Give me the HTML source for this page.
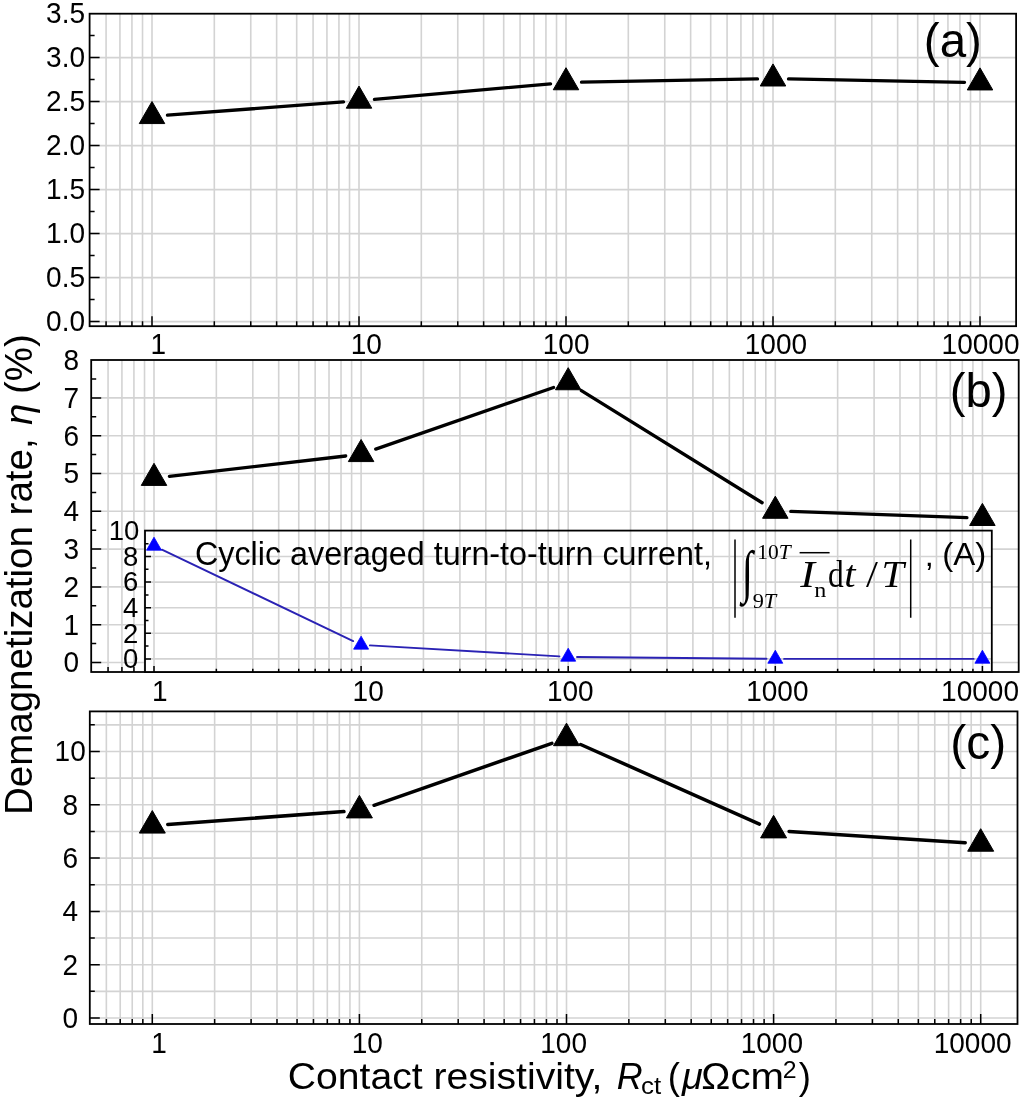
<!DOCTYPE html>
<html lang="en"><head><meta charset="utf-8"><title>Demagnetization rate vs contact resistivity</title>
<style>html,body{margin:0;padding:0;background:#fff}svg{display:block}text{font-family:"Liberation Sans",Arial,sans-serif;fill:#000}.tm{font-family:"Liberation Serif","Times New Roman",serif}</style>
</head><body>
<svg width="1025" height="1100" viewBox="0 0 1025 1100">
<rect width="1025" height="1100" fill="#fff"/>
<g id="panel-a">
<path d="M106.08 13.7V326.2M119.94 13.7V326.2M131.94 13.7V326.2M142.53 13.7V326.2M152 13.7V326.2M214.31 13.7V326.2M250.76 13.7V326.2M276.63 13.7V326.2M296.69 13.7V326.2M313.08 13.7V326.2M326.94 13.7V326.2M338.94 13.7V326.2M349.53 13.7V326.2M359 13.7V326.2M421.31 13.7V326.2M457.76 13.7V326.2M483.63 13.7V326.2M503.69 13.7V326.2M520.08 13.7V326.2M533.94 13.7V326.2M545.94 13.7V326.2M556.53 13.7V326.2M566 13.7V326.2M628.31 13.7V326.2M664.76 13.7V326.2M690.63 13.7V326.2M710.69 13.7V326.2M727.08 13.7V326.2M740.94 13.7V326.2M752.94 13.7V326.2M763.53 13.7V326.2M773 13.7V326.2M835.31 13.7V326.2M871.76 13.7V326.2M897.63 13.7V326.2M917.69 13.7V326.2M934.08 13.7V326.2M947.94 13.7V326.2M959.94 13.7V326.2M970.53 13.7V326.2M980 13.7V326.2M89.6 321.6H1016.1M89.6 277.6H1016.1M89.6 233.6H1016.1M89.6 189.6H1016.1M89.6 145.6H1016.1M89.6 101.6H1016.1M89.6 57.6H1016.1" stroke="#d3d3d3" stroke-width="1.6" fill="none"/>
<g stroke="#000" stroke-width="3.3" stroke-linecap="round"><line x1="167.46" y1="115.06" x2="343.54" y2="101.96"/><line x1="374.44" y1="99.44" x2="550.56" y2="83.79"/><line x1="581.5" y1="82.13" x2="757.5" y2="78.92"/><line x1="788.5" y1="78.93" x2="964.5" y2="82.3"/></g>
<polygon points="152,101.49 139.25,123.57 164.75,123.57" fill="#000" stroke="#000" stroke-width="1.0" stroke-linejoin="round"/>
<polygon points="359,86.09 346.25,108.17 371.75,108.17" fill="#000" stroke="#000" stroke-width="1.0" stroke-linejoin="round"/>
<polygon points="566,67.69 553.25,89.78 578.75,89.78" fill="#000" stroke="#000" stroke-width="1.0" stroke-linejoin="round"/>
<polygon points="773,63.91 760.25,85.99 785.75,85.99" fill="#000" stroke="#000" stroke-width="1.0" stroke-linejoin="round"/>
<polygon points="980,67.87 967.25,89.95 992.75,89.95" fill="#000" stroke="#000" stroke-width="1.0" stroke-linejoin="round"/>
<path d="M106.08 326.2v-5M119.94 326.2v-5M131.94 326.2v-5M142.53 326.2v-5M152 326.2v-10M214.31 326.2v-5M250.76 326.2v-5M276.63 326.2v-5M296.69 326.2v-5M313.08 326.2v-5M326.94 326.2v-5M338.94 326.2v-5M349.53 326.2v-5M359 326.2v-10M421.31 326.2v-5M457.76 326.2v-5M483.63 326.2v-5M503.69 326.2v-5M520.08 326.2v-5M533.94 326.2v-5M545.94 326.2v-5M556.53 326.2v-5M566 326.2v-10M628.31 326.2v-5M664.76 326.2v-5M690.63 326.2v-5M710.69 326.2v-5M727.08 326.2v-5M740.94 326.2v-5M752.94 326.2v-5M763.53 326.2v-5M773 326.2v-10M835.31 326.2v-5M871.76 326.2v-5M897.63 326.2v-5M917.69 326.2v-5M934.08 326.2v-5M947.94 326.2v-5M959.94 326.2v-5M970.53 326.2v-5M980 326.2v-10M89.6 321.6h10M89.6 277.6h10M89.6 233.6h10M89.6 189.6h10M89.6 145.6h10M89.6 101.6h10M89.6 57.6h10M89.6 299.6h5M89.6 255.6h5M89.6 211.6h5M89.6 167.6h5M89.6 123.6h5M89.6 79.6h5M89.6 35.6h5" stroke="#000" stroke-width="1.5" fill="none"/><rect x="89.6" y="13.7" width="926.5" height="312.5" fill="none" stroke="#000" stroke-width="1.8"/>
<text transform="translate(65.6,331.48) scale(0.95,1)" font-size="29.5" text-anchor="middle">0.0</text>
<text transform="translate(65.6,287.48) scale(0.95,1)" font-size="29.5" text-anchor="middle">0.5</text>
<text transform="translate(65.6,243.48) scale(0.95,1)" font-size="29.5" text-anchor="middle">1.0</text>
<text transform="translate(65.6,199.48) scale(0.95,1)" font-size="29.5" text-anchor="middle">1.5</text>
<text transform="translate(65.6,155.48) scale(0.95,1)" font-size="29.5" text-anchor="middle">2.0</text>
<text transform="translate(65.6,111.48) scale(0.95,1)" font-size="29.5" text-anchor="middle">2.5</text>
<text transform="translate(65.6,67.48) scale(0.95,1)" font-size="29.5" text-anchor="middle">3.0</text>
<text transform="translate(65.6,23.48) scale(0.95,1)" font-size="29.5" text-anchor="middle">3.5</text>
</g>
<g id="panel-b">
<path d="M108.06 360V672M121.92 360V672M133.93 360V672M144.52 360V672M154 360V672M216.34 360V672M252.81 360V672M278.69 360V672M298.76 360V672M315.16 360V672M329.02 360V672M341.03 360V672M351.62 360V672M361.1 360V672M423.44 360V672M459.91 360V672M485.79 360V672M505.86 360V672M522.26 360V672M536.12 360V672M548.13 360V672M558.72 360V672M568.2 360V672M630.54 360V672M667.01 360V672M692.89 360V672M712.96 360V672M729.36 360V672M743.22 360V672M755.23 360V672M765.82 360V672M775.3 360V672M837.64 360V672M874.11 360V672M899.99 360V672M920.06 360V672M936.46 360V672M950.32 360V672M962.33 360V672M972.92 360V672M982.4 360V672M91.2 662.5H1018.7M91.2 624.7H1018.7M91.2 586.9H1018.7M91.2 549.1H1018.7M91.2 511.3H1018.7M91.2 473.5H1018.7M91.2 435.7H1018.7M91.2 397.9H1018.7" stroke="#d3d3d3" stroke-width="1.6" fill="none"/>
<g stroke="#000" stroke-width="3.3" stroke-linecap="round"><line x1="169.4" y1="476.27" x2="345.7" y2="455.99"/><line x1="375.74" y1="449.14" x2="553.56" y2="387.48"/><line x1="581.37" y1="390.57" x2="762.13" y2="502.75"/><line x1="790.79" y1="511.46" x2="966.91" y2="517.57"/></g>
<polygon points="154,463.31 141.25,485.4 166.75,485.4" fill="#000" stroke="#000" stroke-width="1.0" stroke-linejoin="round"/>
<polygon points="361.1,439.5 348.35,461.58 373.85,461.58" fill="#000" stroke="#000" stroke-width="1.0" stroke-linejoin="round"/>
<polygon points="568.2,367.68 555.45,389.76 580.95,389.76" fill="#000" stroke="#000" stroke-width="1.0" stroke-linejoin="round"/>
<polygon points="775.3,496.2 762.55,518.28 788.05,518.28" fill="#000" stroke="#000" stroke-width="1.0" stroke-linejoin="round"/>
<polygon points="982.4,503.38 969.65,525.47 995.15,525.47" fill="#000" stroke="#000" stroke-width="1.0" stroke-linejoin="round"/>
<path d="M108.06 672v-5M121.92 672v-5M133.93 672v-5M91.2 662.5h10M91.2 624.7h10M91.2 586.9h10M91.2 549.1h10M91.2 511.3h10M91.2 473.5h10M91.2 435.7h10M91.2 397.9h10M91.2 643.6h5M91.2 605.8h5M91.2 568h5M91.2 530.2h5M91.2 492.4h5M91.2 454.6h5M91.2 416.8h5M91.2 379h5" stroke="#000" stroke-width="1.5" fill="none"/><rect x="91.2" y="360" width="927.5" height="312" fill="none" stroke="#000" stroke-width="1.8"/>
<text transform="translate(71.2,672.38) scale(0.95,1)" font-size="29.5" text-anchor="middle">0</text>
<text transform="translate(71.2,634.58) scale(0.95,1)" font-size="29.5" text-anchor="middle">1</text>
<text transform="translate(71.2,596.78) scale(0.95,1)" font-size="29.5" text-anchor="middle">2</text>
<text transform="translate(71.2,558.98) scale(0.95,1)" font-size="29.5" text-anchor="middle">3</text>
<text transform="translate(71.2,521.18) scale(0.95,1)" font-size="29.5" text-anchor="middle">4</text>
<text transform="translate(71.2,483.38) scale(0.95,1)" font-size="29.5" text-anchor="middle">5</text>
<text transform="translate(71.2,445.58) scale(0.95,1)" font-size="29.5" text-anchor="middle">6</text>
<text transform="translate(71.2,407.78) scale(0.95,1)" font-size="29.5" text-anchor="middle">7</text>
<text transform="translate(71.2,369.98) scale(0.95,1)" font-size="29.5" text-anchor="middle">8</text>
<g id="inset">
<rect x="145" y="530.6" width="846.8" height="141.4" fill="#fff"/>
<path d="M154 530.6V672M216.34 530.6V672M252.81 530.6V672M278.69 530.6V672M298.76 530.6V672M315.16 530.6V672M329.02 530.6V672M341.03 530.6V672M351.62 530.6V672M361.1 530.6V672M423.44 530.6V672M459.91 530.6V672M485.79 530.6V672M505.86 530.6V672M522.26 530.6V672M536.12 530.6V672M548.13 530.6V672M558.72 530.6V672M568.2 530.6V672M630.54 530.6V672M667.01 530.6V672M692.89 530.6V672M712.96 530.6V672M729.36 530.6V672M743.22 530.6V672M755.23 530.6V672M765.82 530.6V672M775.3 530.6V672M837.64 530.6V672M874.11 530.6V672M899.99 530.6V672M920.06 530.6V672M936.46 530.6V672M950.32 530.6V672M962.33 530.6V672M972.92 530.6V672M982.4 530.6V672M145 658.9H991.8M145 633.3H991.8M145 607.7H991.8M145 582.1H991.8M145 556.5H991.8" stroke="#d3d3d3" stroke-width="1.6" fill="none"/>
<g stroke="#2a22b4" stroke-width="1.9" stroke-linecap="round"><line x1="161.94" y1="549.67" x2="353.16" y2="641.03"/><line x1="369.89" y1="645.33" x2="559.41" y2="656.34"/><line x1="577" y1="656.94" x2="766.5" y2="658.81"/><line x1="784.1" y1="658.9" x2="973.6" y2="658.9"/></g>
<polygon points="154,537.22 146.5,550.21 161.5,550.21" fill="#0000ff" stroke="#0000ff" stroke-width="0.8" stroke-linejoin="round"/>
<polygon points="361.1,636.16 353.6,649.15 368.6,649.15" fill="#0000ff" stroke="#0000ff" stroke-width="0.8" stroke-linejoin="round"/>
<polygon points="568.2,648.19 560.7,661.18 575.7,661.18" fill="#0000ff" stroke="#0000ff" stroke-width="0.8" stroke-linejoin="round"/>
<polygon points="775.3,650.24 767.8,663.23 782.8,663.23" fill="#0000ff" stroke="#0000ff" stroke-width="0.8" stroke-linejoin="round"/>
<polygon points="982.4,650.24 974.9,663.23 989.9,663.23" fill="#0000ff" stroke="#0000ff" stroke-width="0.8" stroke-linejoin="round"/>
<path d="M154 672v-6M216.34 672v-3.2M252.81 672v-3.2M278.69 672v-3.2M298.76 672v-3.2M315.16 672v-3.2M329.02 672v-3.2M341.03 672v-3.2M351.62 672v-3.2M361.1 672v-6M423.44 672v-3.2M459.91 672v-3.2M485.79 672v-3.2M505.86 672v-3.2M522.26 672v-3.2M536.12 672v-3.2M548.13 672v-3.2M558.72 672v-3.2M568.2 672v-6M630.54 672v-3.2M667.01 672v-3.2M692.89 672v-3.2M712.96 672v-3.2M729.36 672v-3.2M743.22 672v-3.2M755.23 672v-3.2M765.82 672v-3.2M775.3 672v-6M837.64 672v-3.2M874.11 672v-3.2M899.99 672v-3.2M920.06 672v-3.2M936.46 672v-3.2M950.32 672v-3.2M962.33 672v-3.2M972.92 672v-3.2M982.4 672v-6M145 658.9h6M145 646.1h3.5M145 633.3h6M145 620.5h3.5M145 607.7h6M145 594.9h3.5M145 582.1h6M145 569.3h3.5M145 556.5h6M145 543.7h3.5" stroke="#000" stroke-width="1.5" fill="none"/>
<rect x="145" y="530.6" width="846.8" height="141.4" fill="none" stroke="#000" stroke-width="1.8"/>
<text x="138.2" y="668.2" font-size="27.5" text-anchor="end">0</text>
<text x="138.2" y="642.6" font-size="27.5" text-anchor="end">2</text>
<text x="138.2" y="617" font-size="27.5" text-anchor="end">4</text>
<text x="138.2" y="591.4" font-size="27.5" text-anchor="end">6</text>
<text x="138.2" y="565.8" font-size="27.5" text-anchor="end">8</text>
<text x="139.3" y="540.2" font-size="27.5" text-anchor="end">10</text>
<g id="formula">
<path d="M735 539.5V617.8M910.7 539.5V617.8" stroke="#000" stroke-width="1.5" fill="none"/>
<text class="tm" transform="translate(741.65,591.2) scale(0.821,1.157)" font-size="50">∫</text>
<path d="M799.6 552.7H829.6" stroke="#000" stroke-width="1.5"/>
</g>
</g>
</g>
<g id="panel-c">
<path d="M106.36 711.4V1024M120.22 711.4V1024M132.23 711.4V1024M142.82 711.4V1024M152.3 711.4V1024M214.64 711.4V1024M251.11 711.4V1024M276.99 711.4V1024M297.06 711.4V1024M313.46 711.4V1024M327.32 711.4V1024M339.33 711.4V1024M349.92 711.4V1024M359.4 711.4V1024M421.74 711.4V1024M458.21 711.4V1024M484.09 711.4V1024M504.16 711.4V1024M520.56 711.4V1024M534.42 711.4V1024M546.43 711.4V1024M557.02 711.4V1024M566.5 711.4V1024M628.84 711.4V1024M665.31 711.4V1024M691.19 711.4V1024M711.26 711.4V1024M727.66 711.4V1024M741.52 711.4V1024M753.53 711.4V1024M764.12 711.4V1024M773.6 711.4V1024M835.94 711.4V1024M872.41 711.4V1024M898.29 711.4V1024M918.36 711.4V1024M934.76 711.4V1024M948.62 711.4V1024M960.63 711.4V1024M971.22 711.4V1024M980.7 711.4V1024M89.8 1018H1017.5M89.8 991.35H1017.5M89.8 964.7H1017.5M89.8 938.05H1017.5M89.8 911.4H1017.5M89.8 884.75H1017.5M89.8 858.1H1017.5M89.8 831.45H1017.5M89.8 804.8H1017.5M89.8 778.15H1017.5M89.8 751.5H1017.5M89.8 724.85H1017.5" stroke="#d3d3d3" stroke-width="1.6" fill="none"/>
<g stroke="#000" stroke-width="3.5" stroke-linecap="round"><line x1="167.76" y1="824.45" x2="343.94" y2="811.53"/><line x1="374.04" y1="805.29" x2="551.86" y2="743.28"/><line x1="580.66" y1="744.48" x2="759.44" y2="824.08"/><line x1="789.07" y1="831.38" x2="965.23" y2="842.71"/></g>
<polygon points="152.3,810.58 139.3,833.09 165.3,833.09" fill="#000" stroke="#000" stroke-width="1.0" stroke-linejoin="round"/>
<polygon points="359.4,795.39 346.4,817.9 372.4,817.9" fill="#000" stroke="#000" stroke-width="1.0" stroke-linejoin="round"/>
<polygon points="566.5,723.16 553.5,745.68 579.5,745.68" fill="#000" stroke="#000" stroke-width="1.0" stroke-linejoin="round"/>
<polygon points="773.6,815.37 760.6,837.89 786.6,837.89" fill="#000" stroke="#000" stroke-width="1.0" stroke-linejoin="round"/>
<polygon points="980.7,828.7 967.7,851.21 993.7,851.21" fill="#000" stroke="#000" stroke-width="1.0" stroke-linejoin="round"/>
<path d="M106.36 1024v-5M120.22 1024v-5M132.23 1024v-5M142.82 1024v-5M152.3 1024v-10M214.64 1024v-5M251.11 1024v-5M276.99 1024v-5M297.06 1024v-5M313.46 1024v-5M327.32 1024v-5M339.33 1024v-5M349.92 1024v-5M359.4 1024v-10M421.74 1024v-5M458.21 1024v-5M484.09 1024v-5M504.16 1024v-5M520.56 1024v-5M534.42 1024v-5M546.43 1024v-5M557.02 1024v-5M566.5 1024v-10M628.84 1024v-5M665.31 1024v-5M691.19 1024v-5M711.26 1024v-5M727.66 1024v-5M741.52 1024v-5M753.53 1024v-5M764.12 1024v-5M773.6 1024v-10M835.94 1024v-5M872.41 1024v-5M898.29 1024v-5M918.36 1024v-5M934.76 1024v-5M948.62 1024v-5M960.63 1024v-5M971.22 1024v-5M980.7 1024v-10M89.8 1018h10M89.8 964.7h10M89.8 911.4h10M89.8 858.1h10M89.8 804.8h10M89.8 751.5h10M89.8 991.35h5M89.8 938.05h5M89.8 884.75h5M89.8 831.45h5M89.8 778.15h5M89.8 724.85h5" stroke="#000" stroke-width="1.5" fill="none"/><rect x="89.8" y="711.4" width="927.7" height="312.6" fill="none" stroke="#000" stroke-width="1.8"/>
<text transform="translate(70.2,1027.88) scale(0.95,1)" font-size="29.5" text-anchor="middle">0</text>
<text transform="translate(70.2,974.58) scale(0.95,1)" font-size="29.5" text-anchor="middle">2</text>
<text transform="translate(70.2,921.28) scale(0.95,1)" font-size="29.5" text-anchor="middle">4</text>
<text transform="translate(70.2,867.98) scale(0.95,1)" font-size="29.5" text-anchor="middle">6</text>
<text transform="translate(70.2,814.68) scale(0.95,1)" font-size="29.5" text-anchor="middle">8</text>
<text transform="translate(70.2,761.38) scale(0.95,1)" font-size="29.5" text-anchor="middle">10</text>
</g>
<g id="labels">
<text transform="translate(287.82,1088.8) scale(1.072,1)" font-size="36.5">Contact resistivity,</text>
<text transform="translate(616.77,1088.8) scale(0.983,1)" font-size="36.5" font-style="italic">R</text>
<text transform="translate(640.89,1094) scale(1.106,1)" font-size="23.5">ct</text>
<text x="667.85" y="1088.8" font-size="36.5">(</text>
<text transform="translate(681.88,1088.8) scale(1.037,1)" font-size="36.5" font-style="italic">μ</text>
<text transform="translate(701.3,1088.8) scale(1.064,1)" font-size="36.5">Ω</text>
<text transform="translate(730.45,1088.8) scale(1.102,1)" font-size="36.5">cm</text>
<text transform="translate(782.77,1077.6) scale(1.060,1)" font-size="23.5">2</text>
<text x="798.65" y="1088.8" font-size="36.5">)</text>
<text transform="translate(194.99,565.2) scale(0.979,1)" font-size="33">Cyclic averaged turn-to-turn current,</text>
<text transform="translate(942.27,565.3) scale(1.064,1)" font-size="31">(A)</text>
<text transform="translate(924.71,565.8) scale(1.050,1)" font-size="31">,</text>
<text transform="translate(923.83,57) scale(0.990,1)" font-size="48">(a)</text>
<text transform="translate(949.75,406.5) scale(0.984,1)" font-size="48">(b)</text>
<text x="950.29" y="758.6" font-size="48">(c)</text>
<text transform="translate(350.65,354.4) scale(0.950,1)" font-size="29.5">10</text>
<text transform="translate(542.78,354.4) scale(0.950,1)" font-size="29.5">100</text>
<text transform="translate(744.79,354.4) scale(0.950,1)" font-size="29.5">1000</text>
<text transform="translate(941.56,354.4) scale(0.950,1)" font-size="29.5">10000</text>
<text transform="translate(150.46,354.4) scale(0.950,1)" font-size="29.5">1</text>
<text transform="translate(352.55,701.2) scale(0.950,1)" font-size="29.5">10</text>
<text transform="translate(546.88,701.2) scale(0.950,1)" font-size="29.5">100</text>
<text transform="translate(746.19,701.2) scale(0.950,1)" font-size="29.5">1000</text>
<text transform="translate(941.11,701.2) scale(0.950,1)" font-size="29.5">10000</text>
<text transform="translate(151.96,701.2) scale(0.950,1)" font-size="29.5">1</text>
<text transform="translate(351.7,1052.9) scale(0.950,1)" font-size="29.5">10</text>
<text transform="translate(540.28,1052.9) scale(0.950,1)" font-size="29.5">100</text>
<text transform="translate(740.69,1052.9) scale(0.950,1)" font-size="29.5">1000</text>
<text transform="translate(933.66,1052.9) scale(0.950,1)" font-size="29.5">10000</text>
<text transform="translate(151.26,1052.9) scale(0.950,1)" font-size="29.5">1</text>
<text transform="translate(757.21,559.3) scale(1.023,1)" class="tm" font-size="21">10<tspan font-style="italic">T</tspan></text>
<text transform="translate(752.7,608.3) scale(1.064,1)" class="tm" font-size="21">9<tspan font-style="italic">T</tspan></text>
<text transform="translate(800.19,587.4) scale(1.145,1)" class="tm" font-size="38.5" font-style="italic">I</text>
<text transform="translate(814.23,596.6) scale(1.149,1)" class="tm" font-size="21">n</text>
<text transform="translate(827.97,587.4) scale(0.817,1)" class="tm" font-size="38.5">d</text>
<text transform="translate(844.15,587.4) scale(1.056,1)" class="tm" font-size="38.5" font-style="italic">t</text>
<text transform="translate(866.1,587.4) scale(1.114,1)" class="tm" font-size="38.5">/</text>
<text transform="translate(881.38,587.4) scale(1.049,1)" class="tm" font-size="38.5" font-style="italic">T</text>
</g>
<g transform="translate(32.3,815) rotate(-90)" font-size="38.5"><text x="0" y="0">Demagnetization rate,</text><text x="390" y="0" font-style="italic">η</text><text x="421" y="0">(%)</text></g>
</svg></body></html>
